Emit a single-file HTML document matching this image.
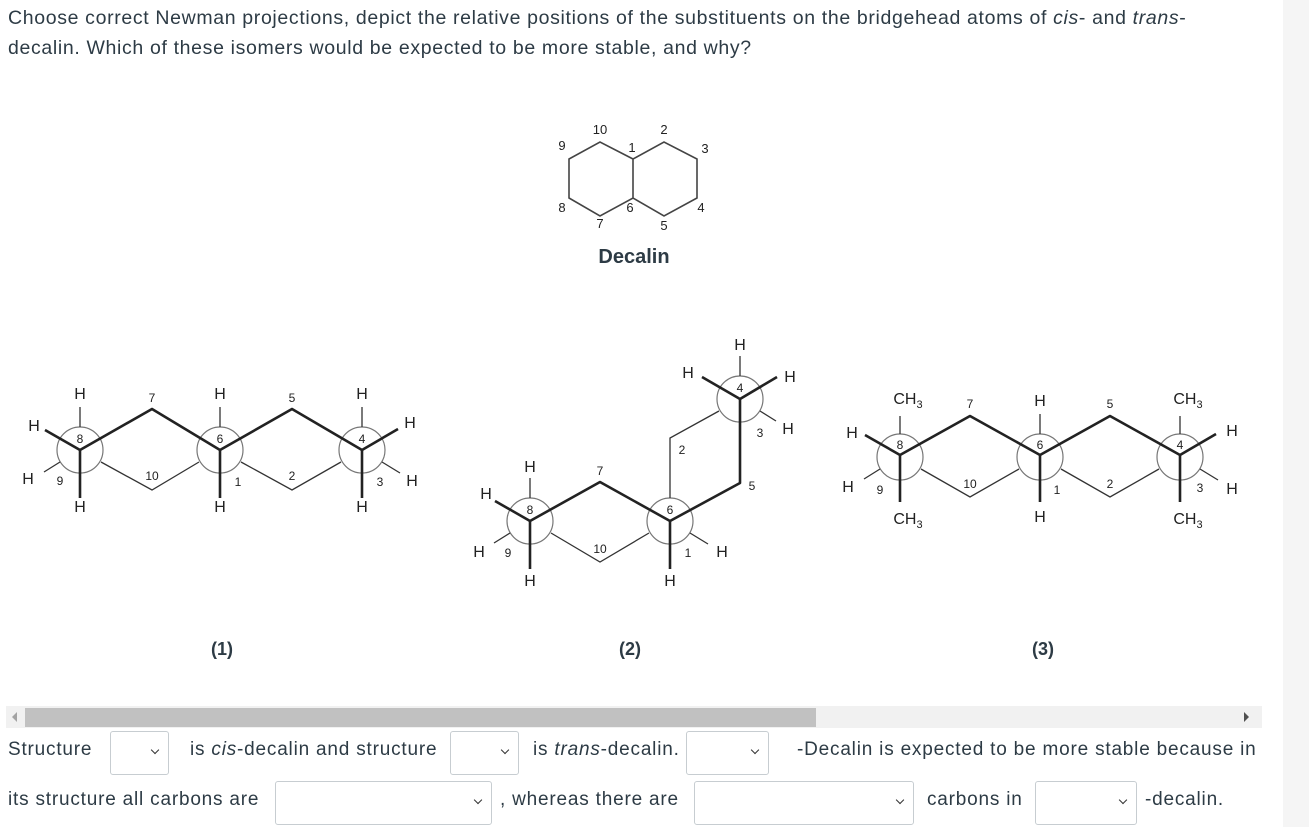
<!DOCTYPE html>
<html><head><meta charset="utf-8"><style>
body{margin:0;width:1309px;height:827px;background:#fff;position:relative;overflow:hidden;font-family:"Liberation Sans",sans-serif;color:#2d3b45}
.q{position:absolute;left:8px;top:3px;font-size:19.5px;letter-spacing:0.65px;line-height:30px;width:1275px}
.t{position:absolute;font-size:19px;letter-spacing:0.8px;white-space:nowrap}
.sel{position:absolute;border:1px solid #c7cdd1;border-radius:3px;background:#fff;height:42px}
.sel:after{content:"";position:absolute;right:10px;top:15px;width:5px;height:5px;border-right:1.5px solid #333;border-bottom:1.5px solid #333;transform:rotate(45deg)}
svg text{font-family:"Liberation Sans",sans-serif;fill:#222}
</style></head><body>
<div style="position:absolute;left:1283px;top:0;width:26px;height:827px;background:#f5f5f5"></div>
<div class="q">Choose correct Newman projections, depict the relative positions of the substituents on the bridgehead atoms of <i>cis</i>- and <i>trans</i>-<br>decalin. Which of these isomers would be expected to be more stable, and why?</div>
<svg width="1309" height="700" style="position:absolute;left:0;top:0">
<g fill="none" stroke="#444" stroke-width="1.6">
<polyline points="633,159 600,142 569,159 569,198 600,216 633,198 664,216 697,198 697,159 664,142 633,159 633,198"/>
</g>
<g font-size="13" text-anchor="middle">
<text x="600" y="134">10</text><text x="664" y="134">2</text><text x="562" y="150">9</text><text x="632" y="152">1</text><text x="705" y="153">3</text><text x="562" y="212">8</text><text x="600" y="228">7</text><text x="630" y="212">6</text><text x="664" y="230">5</text><text x="701" y="212">4</text>
</g>
<text x="634" y="263" font-size="20" font-weight="bold" text-anchor="middle" style="fill:#2d3b45">Decalin</text>

<g fill="none" stroke="#777" stroke-width="1.2">
<circle cx="80" cy="450" r="23"/><circle cx="220" cy="450" r="23"/><circle cx="362" cy="450" r="23"/>
</g>
<g fill="none" stroke="#333" stroke-width="1.3">
<line x1="80" y1="427" x2="80" y2="407"/><line x1="60" y1="462" x2="44" y2="472"/><polyline points="101,462 152,490 199,462"/>
<line x1="220" y1="427" x2="220" y2="407"/><polyline points="241,462 292,490 341,462"/>
<line x1="362" y1="427" x2="362" y2="407"/><line x1="382" y1="462" x2="400" y2="473"/>
</g>
<g fill="none" stroke="#222" stroke-width="2.6" stroke-linejoin="round">
<line x1="80" y1="450" x2="45" y2="430"/><line x1="80" y1="450" x2="80" y2="498"/>
<polyline points="80,450 152,409 220,450 292,409 362,450 398,429"/>
<line x1="220" y1="450" x2="220" y2="498"/><line x1="362" y1="450" x2="362" y2="498"/>
</g>
<g font-size="16" text-anchor="middle">
<text x="80" y="399">H</text><text x="220" y="399">H</text><text x="362" y="399">H</text>
<text x="34" y="431">H</text><text x="28" y="484">H</text><text x="410" y="428">H</text><text x="412" y="486">H</text>
<text x="80" y="512">H</text><text x="220" y="512">H</text><text x="362" y="512">H</text>
</g>
<g font-size="12" text-anchor="middle">
<text x="80" y="443">8</text><text x="220" y="443">6</text><text x="362" y="443">4</text>
<text x="152" y="402">7</text><text x="292" y="402">5</text><text x="60" y="485">9</text><text x="152" y="480">10</text><text x="238" y="486">1</text><text x="292" y="480">2</text><text x="380" y="486">3</text>
</g>

<g fill="none" stroke="#777" stroke-width="1.2">
<circle cx="530" cy="521" r="23"/><circle cx="670" cy="521" r="23"/><circle cx="740" cy="399" r="23"/>
</g>
<g fill="none" stroke="#333" stroke-width="1.3">
<line x1="530" y1="498" x2="530" y2="478"/><line x1="510" y1="533" x2="494" y2="543"/><polyline points="551,533 600,562 649,533"/>
<polyline points="670,498 670,438 719,411"/><line x1="690" y1="533" x2="708" y2="544"/>
<line x1="740" y1="376" x2="740" y2="356"/><line x1="760" y1="411" x2="776" y2="421"/>
</g>
<g fill="none" stroke="#222" stroke-width="2.6" stroke-linejoin="round">
<line x1="530" y1="521" x2="495" y2="501"/><line x1="530" y1="521" x2="530" y2="569"/>
<polyline points="530,521 600,482 670,521 740,483 740,399"/>
<line x1="670" y1="521" x2="670" y2="569"/>
<line x1="740" y1="399" x2="702" y2="377"/><line x1="740" y1="399" x2="777" y2="377"/>
</g>
<g font-size="16" text-anchor="middle">
<text x="530" y="472">H</text><text x="486" y="499">H</text><text x="479" y="557">H</text><text x="530" y="586">H</text>
<text x="670" y="586">H</text><text x="722" y="557">H</text>
<text x="740" y="350">H</text><text x="688" y="378">H</text><text x="790" y="382">H</text><text x="788" y="434">H</text>
</g>
<g font-size="12" text-anchor="middle">
<text x="530" y="514">8</text><text x="670" y="514">6</text><text x="740" y="392">4</text>
<text x="600" y="475">7</text><text x="508" y="557">9</text><text x="600" y="553">10</text><text x="688" y="557">1</text>
<text x="682" y="454">2</text><text x="760" y="437">3</text><text x="752" y="490">5</text>
</g>

<g fill="none" stroke="#777" stroke-width="1.2">
<circle cx="900" cy="457" r="23"/><circle cx="1040" cy="457" r="23"/><circle cx="1180" cy="457" r="23"/>
</g>
<g fill="none" stroke="#333" stroke-width="1.3">
<line x1="900" y1="434" x2="900" y2="416"/><line x1="880" y1="469" x2="864" y2="479"/><polyline points="921,469 970,497 1019,469"/>
<line x1="1040" y1="434" x2="1040" y2="414"/><polyline points="1061,469 1110,497 1159,469"/>
<line x1="1180" y1="434" x2="1180" y2="416"/><line x1="1200" y1="469" x2="1218" y2="480"/>
</g>
<g fill="none" stroke="#222" stroke-width="2.6" stroke-linejoin="round">
<line x1="900" y1="455" x2="865" y2="435"/><line x1="900" y1="455" x2="900" y2="502"/>
<polyline points="900,455 970,416 1040,455 1110,416 1180,455 1216,434"/>
<line x1="1040" y1="455" x2="1040" y2="502"/><line x1="1180" y1="455" x2="1180" y2="502"/>
</g>
<g font-size="16" text-anchor="middle">
<text x="908" y="404">CH<tspan font-size="11" dy="4">3</tspan></text><text x="908" y="524">CH<tspan font-size="11" dy="4">3</tspan></text>
<text x="1188" y="404">CH<tspan font-size="11" dy="4">3</tspan></text><text x="1188" y="524">CH<tspan font-size="11" dy="4">3</tspan></text>
<text x="1040" y="406">H</text><text x="1040" y="522">H</text>
<text x="852" y="438">H</text><text x="848" y="492">H</text><text x="1232" y="436">H</text><text x="1232" y="494">H</text>
</g>
<g font-size="12" text-anchor="middle">
<text x="900" y="449">8</text><text x="1040" y="449">6</text><text x="1180" y="449">4</text>
<text x="970" y="408">7</text><text x="1110" y="408">5</text><text x="880" y="494">9</text><text x="970" y="488">10</text><text x="1057" y="494">1</text><text x="1110" y="488">2</text><text x="1200" y="492">3</text>
</g>
<g font-size="18" font-weight="bold" text-anchor="middle">
<text x="222" y="655" style="fill:#2d3b45">(1)</text><text x="630" y="655" style="fill:#2d3b45">(2)</text><text x="1043" y="655" style="fill:#2d3b45">(3)</text>
</g>
</svg>
<div style="position:absolute;left:6px;top:706px;width:1256px;height:22px;background:#f1f1f1"></div>
<div style="position:absolute;left:25px;top:708px;width:791px;height:19px;background:#c1c1c1"></div>
<div style="position:absolute;left:12px;top:712px;width:0;height:0;border-top:5px solid transparent;border-bottom:5px solid transparent;border-right:5px solid #a3a3a3"></div>
<div style="position:absolute;left:1244px;top:712px;width:0;height:0;border-top:5px solid transparent;border-bottom:5px solid transparent;border-left:5px solid #505050"></div>
<div class="t" style="left:8px;top:739px">Structure</div>
<div class="sel" style="left:110px;top:731px;width:57px"></div>
<div class="t" style="left:190px;top:739px">is <i>cis</i>-decalin and structure</div>
<div class="sel" style="left:450px;top:731px;width:67px"></div>
<div class="t" style="left:533px;top:739px">is <i>trans</i>-decalin.</div>
<div class="sel" style="left:686px;top:731px;width:81px"></div>
<div class="t" style="left:797px;top:739px">-Decalin is expected to be more stable because in</div>
<div class="t" style="left:8px;top:789px">its structure all carbons are</div>
<div class="sel" style="left:275px;top:781px;width:215px"></div>
<div class="t" style="left:500px;top:789px">, whereas there are</div>
<div class="sel" style="left:694px;top:781px;width:218px"></div>
<div class="t" style="left:927px;top:789px">carbons in</div>
<div class="sel" style="left:1035px;top:781px;width:100px"></div>
<div class="t" style="left:1145px;top:789px">-decalin.</div>
</body></html>
